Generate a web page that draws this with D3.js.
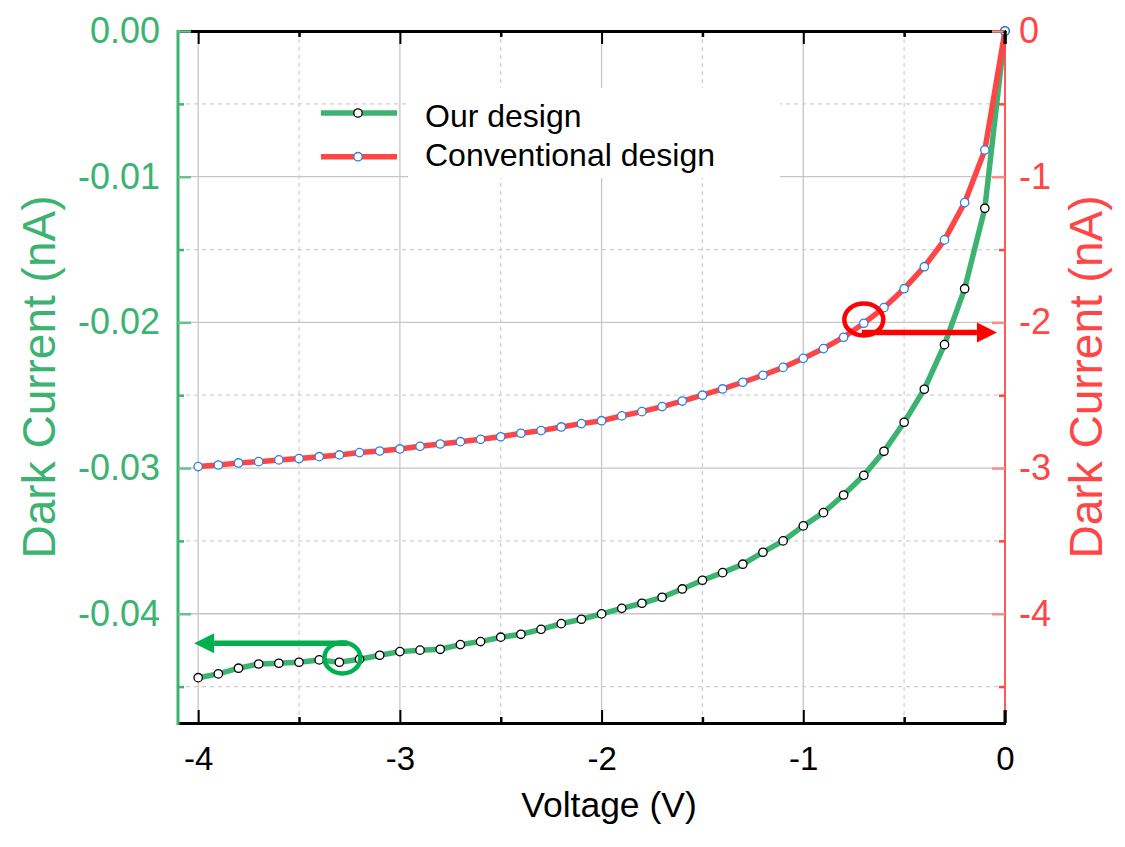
<!DOCTYPE html>
<html lang="en">
<head>
<meta charset="utf-8">
<script src="https://cdn.jsdelivr.net/npm/d3@7"></script>
<style>
  body { margin: 0; background: #fff; }
  text { font-family: "Liberation Sans", Arial, sans-serif; }
</style>
</head>
<body>
<div id="chart"></div>
<script>
// voltage sweep (V)
var voltage = [-4.0, -3.9, -3.8, -3.7, -3.6, -3.5, -3.4, -3.3, -3.2, -3.1,
               -3.0, -2.9, -2.8, -2.7, -2.6, -2.5, -2.4, -2.3, -2.2, -2.1,
               -2.0, -1.9, -1.8, -1.7, -1.6, -1.5, -1.4, -1.3, -1.2, -1.1,
               -1.0, -0.9, -0.8, -0.7, -0.6, -0.5, -0.4, -0.3, -0.2, -0.1, 0.0];

// dark current, our design (nA, left axis)
var ourDesign = [-0.04439, -0.04413, -0.04374, -0.04345, -0.04340, -0.04333, -0.04317, -0.04333, -0.04312, -0.04285,
                 -0.04260, -0.04250, -0.04244, -0.04212, -0.04191, -0.04161, -0.04141, -0.04107, -0.04068, -0.04038,
                 -0.04001, -0.03963, -0.03928, -0.03887, -0.03830, -0.03770, -0.03718, -0.03660, -0.03578, -0.03500,
                 -0.03397, -0.03306, -0.03185, -0.03050, -0.02885, -0.02686, -0.02459, -0.02153, -0.01769, -0.01217, 0];

// dark current, conventional design (nA, right axis)
var conventional = [-2.990, -2.979, -2.965, -2.956, -2.944, -2.935, -2.922, -2.910, -2.894, -2.883,
                    -2.869, -2.851, -2.835, -2.819, -2.803, -2.785, -2.761, -2.743, -2.718, -2.695,
                    -2.675, -2.642, -2.613, -2.578, -2.540, -2.500, -2.457, -2.411, -2.363, -2.309,
                    -2.247, -2.180, -2.102, -2.006, -1.899, -1.769, -1.618, -1.434, -1.178, -0.817, 0];

var xTicks = [-4, -3, -2, -1, 0];
var xMinor = [-3.5, -2.5, -1.5, -0.5];
var leftTicks = [0, -0.01, -0.02, -0.03, -0.04];
var leftMinor = [-0.005, -0.015, -0.025, -0.035, -0.045];
var rightTicks = [0, -1, -2, -3, -4];
var rightMinor = [-0.5, -1.5, -2.5, -3.5, -4.5];

var seriesNames = ["Our design", "Conventional design"];

var width = 1125, height = 847;
var green = "#3cb371", red = "#ff4646";
var pLeft = 178, pRight = 1005, pTop = 31, pBottom = 723;

var x = d3.scaleLinear().domain([-4.1, 0]).range([pLeft, pRight]);
var yL = d3.scaleLinear().domain([-0.0475, 0]).range([pBottom, pTop]);
var yR = d3.scaleLinear().domain([-4.75, 0]).range([pBottom, pTop]);

var svg = d3.select("#chart").append("svg")
    .attr("width", width)
    .attr("height", height);

// grid
var grid = svg.append("g");
grid.selectAll(".vmaj").data(xTicks.slice(0, 4)).enter().append("line")
    .attr("x1", d => x(d)).attr("x2", d => x(d))
    .attr("y1", pTop).attr("y2", pBottom)
    .style("stroke", "#c6c6c6").style("stroke-width", 1.3);
grid.selectAll(".vmin").data(xMinor).enter().append("line")
    .attr("x1", d => x(d)).attr("x2", d => x(d))
    .attr("y1", pTop).attr("y2", pBottom)
    .style("stroke", "#cfcfcf").style("stroke-width", 1.2)
    .style("stroke-dasharray", "4,4");
grid.selectAll(".hmaj").data(leftTicks.slice(1)).enter().append("line")
    .attr("x1", pLeft).attr("x2", pRight)
    .attr("y1", d => yL(d)).attr("y2", d => yL(d))
    .style("stroke", "#c6c6c6").style("stroke-width", 1.3);
grid.selectAll(".hmin").data(leftMinor).enter().append("line")
    .attr("x1", pLeft).attr("x2", pRight)
    .attr("y1", d => yL(d)).attr("y2", d => yL(d))
    .style("stroke", "#cfcfcf").style("stroke-width", 1.2)
    .style("stroke-dasharray", "4,4");

// legend background hides grid behind the labels
svg.append("rect")
    .attr("x", 408).attr("y", 88)
    .attr("width", 372).attr("height", 90)
    .style("fill", "#fff");

// data
var ptsGreen = voltage.map((v, i) => [x(v), yL(ourDesign[i])]);
var ptsRed = voltage.map((v, i) => [x(v), yR(conventional[i])]);
var line = d3.line();

svg.append("path").attr("d", line(ptsGreen))
    .style("fill", "none").style("stroke", green).style("stroke-width", 5.5);
svg.selectAll(".mg").data(ptsGreen).enter().append("circle")
    .attr("cx", d => d[0]).attr("cy", d => d[1]).attr("r", 4.2)
    .style("fill", "#fff").style("stroke", "#000").style("stroke-width", 1.3);

svg.append("path").attr("d", line(ptsRed))
    .style("fill", "none").style("stroke", red).style("stroke-width", 5.5);
svg.selectAll(".mr").data(ptsRed).enter().append("circle")
    .attr("cx", d => d[0]).attr("cy", d => d[1]).attr("r", 4.2)
    .style("fill", "#fff").style("stroke", "#2f7fe8").style("stroke-width", 1.3);

// annotations: circle + arrow pointing at the matching axis
function arrow(g, x0, x1, y, col) {
    var dir = x1 > x0 ? 1 : -1;
    var hb = x1 - dir * 20;
    g.append("line").attr("x1", x0).attr("x2", hb).attr("y1", y).attr("y2", y)
        .style("stroke", col).style("stroke-width", 5.5);
    g.append("path")
        .attr("d", "M" + x1 + "," + y + "L" + hb + "," + (y - 10) + "L" + hb + "," + (y + 10) + "Z")
        .style("fill", col);
}
var ann = svg.append("g");
ann.append("ellipse")
    .attr("cx", x(-0.7)).attr("cy", yR(-1.98)).attr("rx", 19.5).attr("ry", 16)
    .style("fill", "none").style("stroke", "#ff0000").style("stroke-width", 4.5);
arrow(ann, x(-0.71), x(-0.04), yR(-2.07), "#ff0000");
ann.append("ellipse")
    .attr("cx", x(-3.285)).attr("cy", yL(-0.04303)).attr("rx", 18).attr("ry", 15.5)
    .style("fill", "none").style("stroke", "#00b050").style("stroke-width", 4.5);
arrow(ann, x(-3.26), x(-4.02), yL(-0.04203), "#00b050");

// spines
svg.append("line").attr("x1", pLeft).attr("x2", pRight + 1).attr("y1", pTop + 0.5).attr("y2", pTop + 0.5)
    .style("stroke", "#000").style("stroke-width", 3);
svg.append("line").attr("x1", pLeft).attr("x2", pRight + 1).attr("y1", pBottom + 0.5).attr("y2", pBottom + 0.5)
    .style("stroke", "#000").style("stroke-width", 3);
svg.append("line").attr("x1", pLeft).attr("x2", pLeft).attr("y1", pTop - 1).attr("y2", pBottom + 2)
    .style("stroke", green).style("stroke-width", 3);
svg.append("line").attr("x1", pRight).attr("x2", pRight).attr("y1", pTop + 8).attr("y2", pBottom - 12)
    .style("stroke", red).style("stroke-width", 1.8);

// axes (ticks point inward)
function clean(g) { g.select(".domain").remove(); }

svg.append("g").attr("transform", "translate(0," + pBottom + ")")
    .call(d3.axisBottom(x).tickValues(xTicks).tickSize(-13).tickPadding(24).tickFormat(d => String(d)))
    .call(clean)
    .call(g => g.selectAll("line").style("stroke", "#000").style("stroke-width", 2))
    .call(g => g.selectAll("text").style("font-size", "33px").style("fill", "#000")
        .style("font-family", "'Liberation Sans', Arial, sans-serif"));
svg.append("g").attr("transform", "translate(0," + pBottom + ")")
    .call(d3.axisBottom(x).tickValues(xMinor).tickSize(-6).tickFormat(""))
    .call(clean)
    .call(g => g.selectAll("line").style("stroke", "#000").style("stroke-width", 2.5));
svg.append("g").attr("transform", "translate(0," + pTop + ")")
    .call(d3.axisTop(x).tickValues(xTicks).tickSize(-13).tickFormat(""))
    .call(clean)
    .call(g => g.selectAll("line").style("stroke", "#000").style("stroke-width", 2));
svg.append("g").attr("transform", "translate(0," + pTop + ")")
    .call(d3.axisTop(x).tickValues(xMinor).tickSize(-6).tickFormat(""))
    .call(clean)
    .call(g => g.selectAll("line").style("stroke", "#000").style("stroke-width", 2.5));

svg.append("g").attr("transform", "translate(" + pLeft + ",0)")
    .call(d3.axisLeft(yL).tickValues(leftTicks).tickSize(-13).tickPadding(18).tickFormat(d => d.toFixed(2)))
    .call(clean)
    .call(g => g.selectAll("line").style("stroke", "#6cc08e").style("stroke-width", 2.5))
    .call(g => g.selectAll("text").style("font-size", "36px").style("fill", green)
        .style("font-family", "'Liberation Sans', Arial, sans-serif"));
svg.append("g").attr("transform", "translate(" + pLeft + ",0)")
    .call(d3.axisLeft(yL).tickValues(leftMinor).tickSize(-6).tickFormat(""))
    .call(clean)
    .call(g => g.selectAll("line").style("stroke", green).style("stroke-width", 2.5));

svg.append("g").attr("transform", "translate(" + pRight + ",0)")
    .call(d3.axisRight(yR).tickValues(rightTicks).tickSize(-13).tickPadding(14).tickFormat(d => String(d)))
    .call(clean)
    .call(g => g.selectAll("line").style("stroke", "#ff8a8a").style("stroke-width", 2.5))
    .call(g => g.selectAll("text").style("font-size", "36px").style("fill", red)
        .style("font-family", "'Liberation Sans', Arial, sans-serif"));
svg.append("g").attr("transform", "translate(" + pRight + ",0)")
    .call(d3.axisRight(yR).tickValues(rightMinor).tickSize(-6).tickFormat(""))
    .call(clean)
    .call(g => g.selectAll("line").style("stroke", red).style("stroke-width", 2.5));

// black corner ticks at x = 0 drawn over the red spine
svg.selectAll(".corner").data([[pTop, pTop + 13], [pBottom - 13, pBottom]]).enter().append("line")
    .attr("x1", x(0)).attr("x2", x(0)).attr("y1", d => d[0]).attr("y2", d => d[1])
    .style("stroke", "#000").style("stroke-width", 3);

// axis titles
svg.append("text")
    .attr("transform", "translate(55,377) rotate(-90)")
    .attr("text-anchor", "middle")
    .style("font-size", "46px").style("fill", green)
    .text("Dark Current (nA)");
svg.append("text")
    .attr("transform", "translate(1102,377) rotate(-90)")
    .attr("text-anchor", "middle")
    .style("font-size", "46px").style("fill", red)
    .text("Dark Current (nA)");
svg.append("text")
    .attr("x", 609).attr("y", 817)
    .attr("text-anchor", "middle")
    .style("font-size", "35.5px").style("fill", "#000")
    .text("Voltage (V)");

// legend
var legend = svg.append("g");
var legendStyle = [
    { y: 113, base: 127, stroke: green, mark: "#000" },
    { y: 156.7, base: 166, stroke: red, mark: "#2f7fe8" }
];
legendStyle.forEach(function(s, i) {
    legend.append("line").attr("x1", 321).attr("x2", 397).attr("y1", s.y).attr("y2", s.y)
        .style("stroke", s.stroke).style("stroke-width", 5.5);
    legend.append("circle").attr("cx", 358).attr("cy", s.y).attr("r", 4.2)
        .style("fill", "#fff").style("stroke", s.mark).style("stroke-width", 1.3);
    legend.append("text").attr("x", 425).attr("y", s.base)
        .style("font-size", "32px").style("fill", "#000")
        .text(seriesNames[i]);
});
</script>
</body>
</html>
